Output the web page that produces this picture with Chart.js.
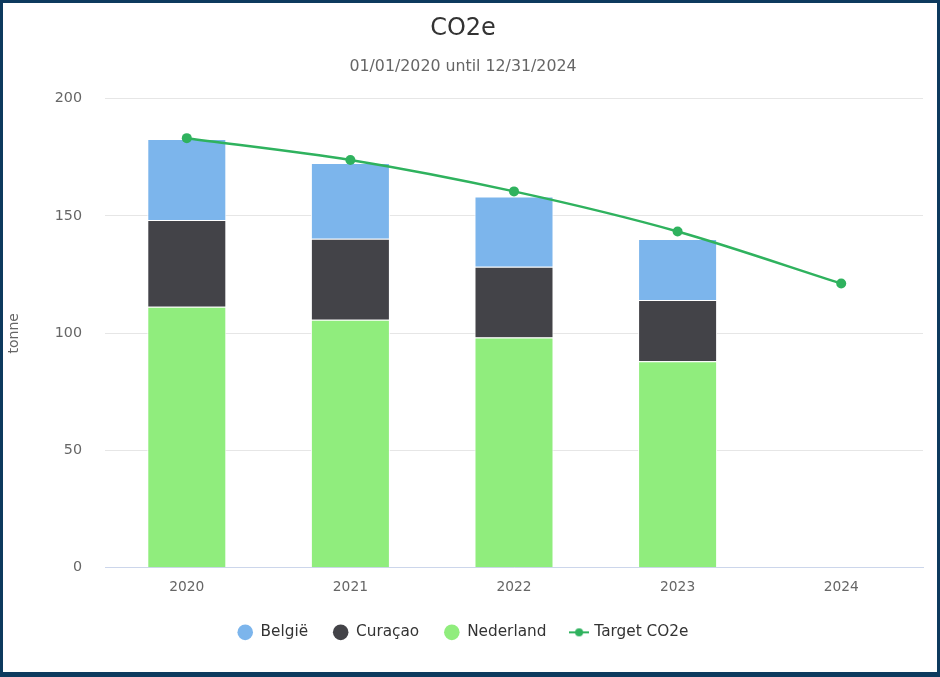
<!DOCTYPE html>
<html>
<head>
<meta charset="utf-8">
<title>CO2e</title>
<script src="https://cdn.jsdelivr.net/npm/chart.js@4/dist/chart.umd.min.js"></script>
<style>
  html, body { margin: 0; padding: 0; background: #fff; }
  #frame {
    position: absolute; left: 0; top: 0;
    width: 940px; height: 677px;
    box-sizing: border-box;
    border-style: solid; border-color: #0d3a5e;
    border-width: 3px 3px 5px 3px;
    background: #fff;
  }
  #wrap { position: relative; width: 934px; height: 669px; }
</style>
</head>
<body>
<div id="frame"><div id="wrap"><canvas id="co2Chart"></canvas></div></div>
<script>
// chart data
const years = ["2020", "2021", "2022", "2023", "2024"];
const nederland = [111.3, 105.8, 98.2, 88.0, null];
const curacao = [37.0, 34.5, 30.2, 26.2, null];
const belgie = [34.5, 32.3, 29.9, 26.0, null];
const targetCO2e = [183.2, 173.9, 160.5, 143.4, 121.2];
const yTicks = [0, 50, 100, 150, 200];

const FONT = "'DejaVu Sans', sans-serif";
const lineGreen = "#2fb25e";

// legend order: België, Curaçao, Nederland, Target CO2e
const legendOrder = ["België", "Curaçao", "Nederland", "Target CO2e"];

// small picture for the line entry in the legend (line with a dot)
function makeLineMarker() {
  const c = document.createElement("canvas");
  c.width = 20;
  c.height = 12;
  const g = c.getContext("2d");
  g.strokeStyle = lineGreen;
  g.lineWidth = 2;
  g.beginPath();
  g.moveTo(0, 6);
  g.lineTo(20, 6);
  g.stroke();
  g.fillStyle = lineGreen;
  g.beginPath();
  g.arc(10, 6, 4, 0, Math.PI * 2);
  g.fill();
  return c;
}
const lineMarker = makeLineMarker();

let co2Chart = null;

function createChart() {
  const ctx = document.getElementById("co2Chart").getContext("2d");
  co2Chart = new Chart(ctx, {
    data: {
      labels: years,
      datasets: [
        {
          type: "bar",
          label: "Nederland",
          data: nederland,
          backgroundColor: "#90ed7d",
          borderColor: "#ffffff",
          borderWidth: 1,
          order: 2,
        },
        {
          type: "bar",
          label: "Curaçao",
          data: curacao,
          backgroundColor: "#434348",
          borderColor: "#ffffff",
          borderWidth: 1,
          order: 2,
        },
        {
          type: "bar",
          label: "België",
          data: belgie,
          backgroundColor: "#7cb5ec",
          borderColor: "#ffffff",
          borderWidth: 1,
          order: 2,
        },
        {
          type: "line",
          label: "Target CO2e",
          data: targetCO2e,
          borderColor: lineGreen,
          backgroundColor: lineGreen,
          borderWidth: 2.5,
          pointRadius: 5,
          pointBorderWidth: 0,
          pointBackgroundColor: lineGreen,
          tension: 0.3,
          stack: "target",
          order: 1,
        },
      ],
    },
    options: {
      responsive: true,
      maintainAspectRatio: false,
      animation: false,
      layout: {
        padding: { left: 0, right: 14, top: 0, bottom: 22 },
      },
      datasets: {
        bar: { categoryPercentage: 1.0, barPercentage: 0.483 },
      },
      scales: {
        x: {
          stacked: true,
          grid: { display: false, drawTicks: false },
          border: { display: true, color: "#ccd6eb", width: 1 },
          ticks: {
            color: "#666666",
            font: { family: FONT, size: 13.8 },
            padding: 11,
            maxRotation: 0,
          },
          afterFit: (scale) => {
            scale.height = 32;
          },
        },
        y: {
          stacked: true,
          min: 0,
          max: 200,
          afterBuildTicks: (scale) => {
            scale.ticks = yTicks.map((v) => ({ value: v }));
          },
          grid: { color: "#e6e6e6", drawTicks: false },
          border: { display: false },
          ticks: {
            color: "#666666",
            font: { family: FONT, size: 14.3 },
            padding: 23,
          },
          title: {
            display: true,
            text: "tonne",
            color: "#666666",
            font: { family: FONT, size: 14 },
            padding: { top: 2.5, bottom: 0 },
          },
          afterFit: (scale) => {
            scale.width = 102;
          },
        },
      },
      plugins: {
        title: {
          display: true,
          text: "CO2e",
          color: "#333333",
          font: { family: FONT, size: 24, weight: "normal" },
          padding: { top: 11, bottom: 15 },
        },
        subtitle: {
          display: true,
          text: "01/01/2020 until 12/31/2024",
          color: "#666666",
          font: { family: FONT, size: 15.8 },
          padding: { top: 0, bottom: 22 },
        },
        legend: {
          position: "bottom",
          labels: {
            color: "#333333",
            font: { family: FONT, size: 15.3 },
            usePointStyle: true,
            boxWidth: 16,
            boxHeight: 11,
            padding: 25,
            generateLabels: (chart) => {
              const items = Chart.defaults.plugins.legend.labels.generateLabels(chart);
              items.forEach((it) => {
                if (it.text === "Target CO2e") {
                  it.pointStyle = lineMarker;
                } else {
                  it.pointStyle = "circle";
                  it.lineWidth = 0;
                  it.strokeStyle = it.fillStyle;
                }
              });
              return items;
            },
            sort: (a, b) => legendOrder.indexOf(a.text) - legendOrder.indexOf(b.text),
          },
        },
        tooltip: { enabled: false },
      },
    },
  });
}

window.onload = function () {
  createChart();
};
</script>
</body>
</html>
